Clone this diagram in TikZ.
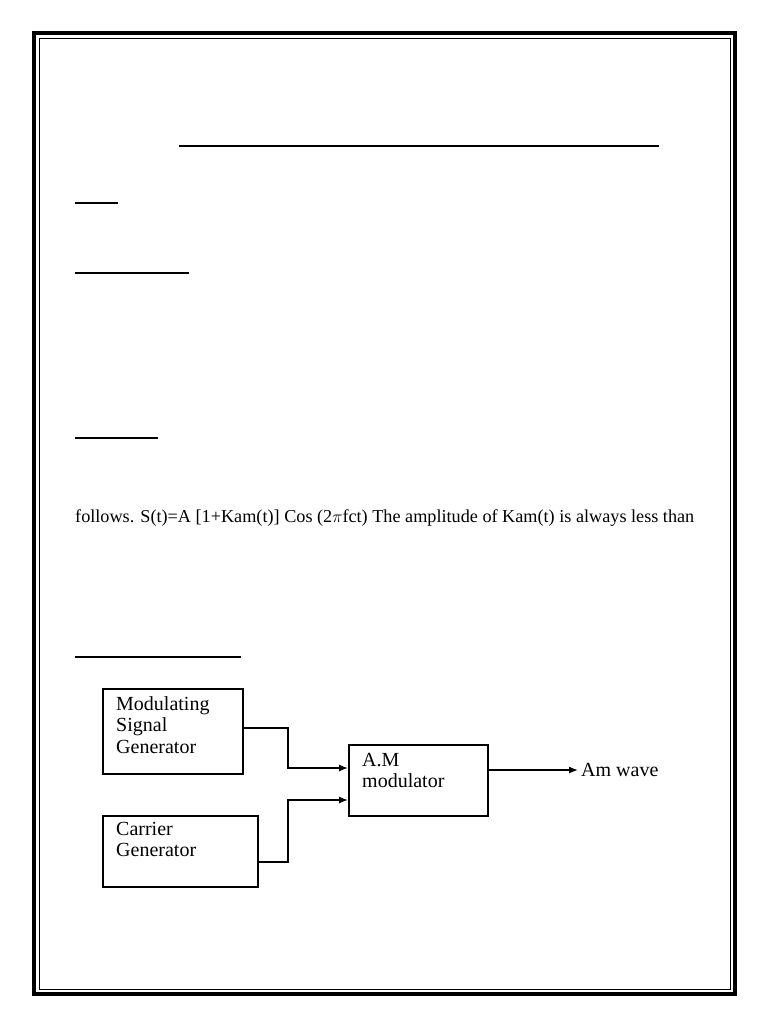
\documentclass[tikz,border=0pt]{standalone}
\usepackage{fontspec}
\setmainfont{Liberation Serif}
\usetikzlibrary{arrows.meta}
\begin{document}
\begin{tikzpicture}[x=1pt,y=-1pt,
  blk/.style={draw,line width=1.5pt,anchor=north west,inner sep=0pt},
  lbl/.style={font=\fontsize{20}{21.5}\selectfont,align=left,anchor=north west,inner sep=0pt},
  conn/.style={line width=1.3pt,-{Latex[length=9pt,width=7pt]}},
  rule/.style={line width=1.5pt}]
\useasboundingbox (0,0) rectangle (768,1024);
\fill[white] (0,0) rectangle (768,1024);
\draw[line width=3.5pt] (34,33) rectangle (735,994);
\draw[line width=0.8pt] (39,38) rectangle (730,989);
\draw[rule] (179,146) -- (659,146);
\draw[rule] (75,203) -- (118,203);
\draw[rule] (75,273) -- (189,273);
\draw[rule] (75,438) -- (158,438);
\draw[rule] (75,657) -- (241,657);
\node[anchor=west,inner sep=0pt,font=\fontsize{18.2}{20}\selectfont] (txt) at (75,518) {follows. S(t)=A [1+Kam(t)] Cos (2$\pi$fct) The amplitude of Kam(t) is always less than};
\node[blk,minimum width=140,minimum height=85] (msg) at (102,688) {};
\node[lbl] at (116,696) {Modulating\\Signal\\Generator};
\node[blk,minimum width=155,minimum height=71] (car) at (102,815) {};
\node[lbl] at (116,822) {Carrier\\Generator};
\node[blk,minimum width=139,minimum height=71] (am) at (348,744) {};
\node[lbl] at (362,753) {A.M\\modulator};
\coordinate (a1) at (msg.east |- 0,728);
\coordinate (a2) at (car.east |- 0,862);
\coordinate (out) at (578,770);
\draw[conn] (a1) -- (288,728) -- (288,768) -- (348,768);
\draw[conn] (a2) -- (288,862) -- (288,800) -- (348,800);
\draw[conn] (am.east |- out) -- (out);
\node[anchor=west,inner sep=0pt,font=\fontsize{20}{21}\selectfont] (aw) at (581,770) {Am wave};
\end{tikzpicture}
\end{document}
